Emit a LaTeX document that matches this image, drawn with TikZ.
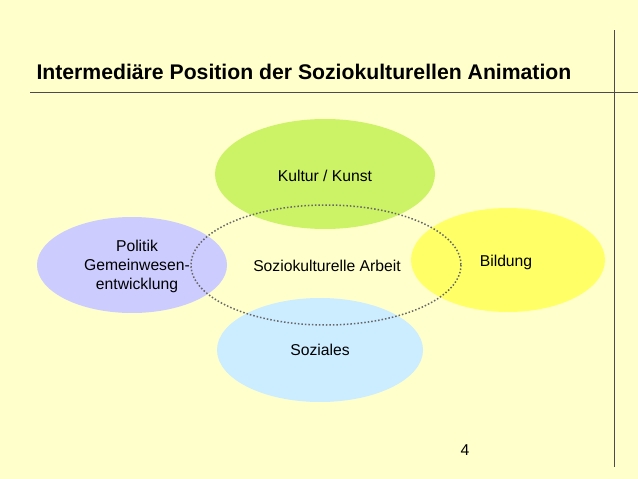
\documentclass[tikz,border=0pt]{standalone}
\usepackage{fontspec}
\setmainfont{Liberation Sans}
\definecolor{slidebg}{RGB}{255,255,204}
\definecolor{kulturgreen}{RGB}{204,242,102}
\definecolor{politiklila}{RGB}{204,204,255}
\definecolor{bildunggelb}{RGB}{255,255,102}
\definecolor{sozialblau}{RGB}{204,236,255}
\begin{document}
\begin{tikzpicture}[x=1pt,y=-1pt,
  lbl/.style={font=\fontsize{15.7}{19}\selectfont,align=center}]
\fill[slidebg] (0,0) rectangle (638,479);
\useasboundingbox (0,0) rectangle (638,479);
\draw[black!70] (614,30) -- (614,467);
\draw[black!70] (30,92) -- (638,92);
\node[anchor=west,font=\fontsize{21.2}{25}\selectfont\bfseries] (title) at (33,72) {Intermediäre Position der Soziokulturellen Animation};
% Felder
\fill[kulturgreen] (325,174) ellipse [x radius=110,y radius=55];
\fill[politiklila] (132,265) ellipse [x radius=95,y radius=48];
\fill[bildunggelb] (508,260) ellipse [x radius=97,y radius=52];
\fill[sozialblau] (320,350) ellipse [x radius=103,y radius=52];
\draw[black!60,dotted,line width=1.5pt] (326,265) ellipse [x radius=135,y radius=60];
\node[lbl] (kultur) at (325,176) {Kultur / Kunst};
\node[lbl] (politik) at (137,266) {Politik\\Gemeinwesen-\\entwicklung};
\node[lbl] (arbeit) at (327,266) {Soziokulturelle Arbeit};
\node[lbl] (bildung) at (506,262) {Bildung};
\node[lbl] (soziales) at (320,350) {Soziales};
\node[lbl] (seite) at (465,450) {4};
\end{tikzpicture}
\end{document}
